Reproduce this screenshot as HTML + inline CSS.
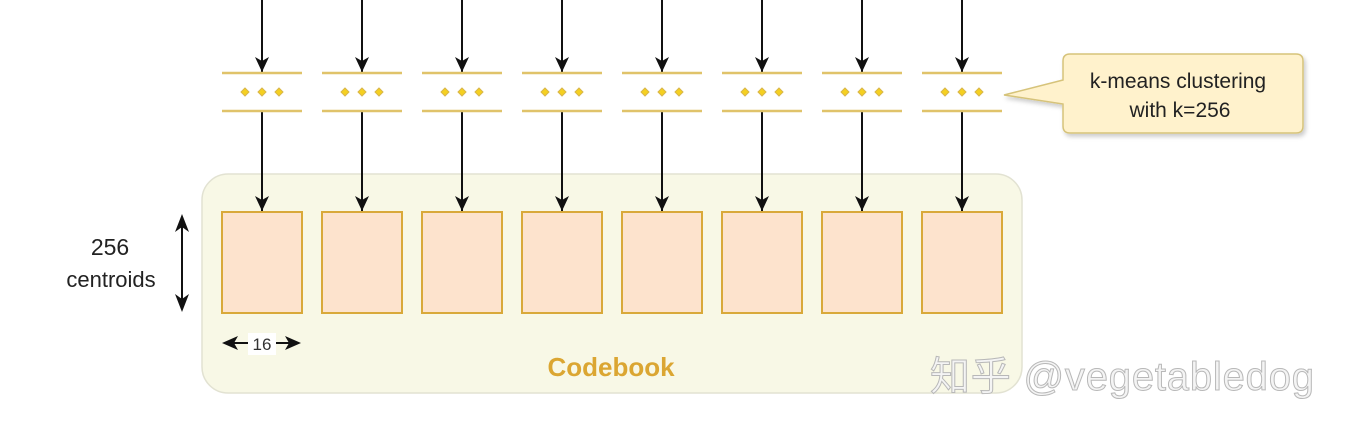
<!DOCTYPE html>
<html><head><meta charset="utf-8"><style>
html,body{margin:0;padding:0;background:#fff;width:1348px;height:436px;overflow:hidden}
svg{display:block}
text{font-family:"Comic Sans MS","Liberation Sans",sans-serif}
</style></head><body>
<svg width="1348" height="436" viewBox="0 0 1348 436" xmlns="http://www.w3.org/2000/svg">
<defs>
<marker id="ah" markerWidth="16" markerHeight="16" refX="15" refY="7" orient="auto" markerUnits="userSpaceOnUse">
<path d="M0,0 L15,7 L0,14 L4,7 Z" fill="#111"/>
</marker>
<filter id="sh" x="-10%" y="-10%" width="130%" height="130%"><feDropShadow dx="2" dy="3" stdDeviation="2" flood-color="#000" flood-opacity="0.2"/></filter>
</defs>
<rect x="202" y="174" width="820" height="219" rx="26" fill="#f8f8e6" stroke="#e2e2d2" stroke-width="1.5"/>
<g stroke="#111" stroke-width="2" fill="none">
<line x1="262" y1="0" x2="262" y2="72" marker-end="url(#ah)"/><line x1="262" y1="112" x2="262" y2="211" marker-end="url(#ah)"/>
<line x1="362" y1="0" x2="362" y2="72" marker-end="url(#ah)"/><line x1="362" y1="112" x2="362" y2="211" marker-end="url(#ah)"/>
<line x1="462" y1="0" x2="462" y2="72" marker-end="url(#ah)"/><line x1="462" y1="112" x2="462" y2="211" marker-end="url(#ah)"/>
<line x1="562" y1="0" x2="562" y2="72" marker-end="url(#ah)"/><line x1="562" y1="112" x2="562" y2="211" marker-end="url(#ah)"/>
<line x1="662" y1="0" x2="662" y2="72" marker-end="url(#ah)"/><line x1="662" y1="112" x2="662" y2="211" marker-end="url(#ah)"/>
<line x1="762" y1="0" x2="762" y2="72" marker-end="url(#ah)"/><line x1="762" y1="112" x2="762" y2="211" marker-end="url(#ah)"/>
<line x1="862" y1="0" x2="862" y2="72" marker-end="url(#ah)"/><line x1="862" y1="112" x2="862" y2="211" marker-end="url(#ah)"/>
<line x1="962" y1="0" x2="962" y2="72" marker-end="url(#ah)"/><line x1="962" y1="112" x2="962" y2="211" marker-end="url(#ah)"/>
</g>
<g stroke="#e0c36a" stroke-width="2.5">
<path d="M222 73H302M222 111H302M322 73H402M322 111H402M422 73H502M422 111H502M522 73H602M522 111H602M622 73H702M622 111H702M722 73H802M722 111H802M822 73H902M822 111H902M922 73H1002M922 111H1002"/>
</g>
<g fill="#f5d020" stroke="#d8b64a" stroke-width="1">
<path id="d" d="M245 88 L249 92 L245 96 L241 92 Z M262 88 L266 92 L262 96 L258 92 Z M279 88 L283 92 L279 96 L275 92 Z"/>
<use href="#d" x="100"/><use href="#d" x="200"/><use href="#d" x="300"/><use href="#d" x="400"/><use href="#d" x="500"/><use href="#d" x="600"/><use href="#d" x="700"/>
</g>
<g fill="#fde3cd" stroke="#d9a93a" stroke-width="2">
<rect x="222" y="212" width="80" height="101"/><rect x="322" y="212" width="80" height="101"/>
<rect x="422" y="212" width="80" height="101"/><rect x="522" y="212" width="80" height="101"/>
<rect x="622" y="212" width="80" height="101"/><rect x="722" y="212" width="80" height="101"/>
<rect x="822" y="212" width="80" height="101"/><rect x="922" y="212" width="80" height="101"/>
</g>
<path d="M1070 54 H1296 Q1303 54 1303 61 V126 Q1303 133 1296 133 H1070 Q1063 133 1063 126 V104 L1004 95 L1063 80 V61 Q1063 54 1070 54 Z" fill="#fff2cc" stroke="#d6c37a" stroke-width="1.5" filter="url(#sh)"/>
<text x="1178" y="88" font-size="21" text-anchor="middle" fill="#222">k-means clustering</text>
<text x="1180" y="117" font-size="21" text-anchor="middle" fill="#222">with k=256</text>
<text x="110" y="255" font-size="23" text-anchor="middle" fill="#222">256</text>
<text x="111" y="287" font-size="22" text-anchor="middle" fill="#222">centroids</text>
<line x1="182" y1="222" x2="182" y2="302" stroke="#111" stroke-width="2"/>
<path d="M182 214 L189 232 L182 227 L175 232 Z M182 312 L189 294 L182 299 L175 294 Z" fill="#111"/>
<path d="M222 343 L238 336 L234 343 L238 350 Z M301 343 L285 336 L289 343 L285 350 Z" fill="#111"/>
<line x1="230" y1="343" x2="248" y2="343" stroke="#111" stroke-width="2"/>
<line x1="276" y1="343" x2="294" y2="343" stroke="#111" stroke-width="2"/>
<rect x="248" y="333" width="28" height="22" fill="#fff"/>
<text x="262" y="350" font-size="17" text-anchor="middle" fill="#333" font-family="Liberation Sans">16</text>
<text x="611" y="376" font-size="26" font-weight="bold" text-anchor="middle" fill="#dba632">Codebook</text>
<text x="1122" y="390" font-size="40" text-anchor="middle" fill="#f4f4f4" stroke="#b8b8b8" stroke-width="1" textLength="384" style="font-family:'Liberation Sans','Noto Sans CJK SC',sans-serif">知乎 @vegetabledog</text>
</svg>
</body></html>
